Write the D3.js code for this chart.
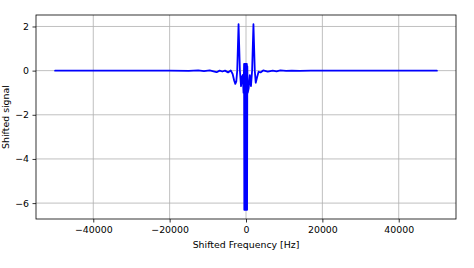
<!DOCTYPE html>
<html>
<head>
<meta charset="utf-8">
<script src="https://cdn.jsdelivr.net/npm/d3@7"></script>
<style>
  body { margin: 0; background: #fff; }
  svg { display: block; font-family: "DejaVu Sans", sans-serif; }
</style>
</head>
<body>
<div id="chart"></div>
<script>
// shifted spectrum
const freqs = [
    -50000, -30000, -20000, -15000, -12500, -11000, -9500, -8500, -7700, -6900,
    -6200, -5500, -4700, -4000, -3500, -3100, -2800, -2550, -2300, -1950,
    -1600, -1300, -1000, -850, -650, -500,
    -440, -380, -320, -260, -200, -140, -80, -20, 40, 100, 160, 220, 280, 340,
    450, 700, 1000, 1300, 1600, 1950,
    2300, 2550, 2900, 3300, 3800, 4500, 5700, 7000, 8000, 9000,
    10500, 12000, 14000, 17000, 20000, 30000, 50000
];
const signal = [
    0, 0, 0.005, -0.01, 0.01, -0.02, 0.01, -0.03, -0.07, 0.0,
    -0.04, 0.0, -0.08, 0.01, -0.15, -0.45, -0.6, -0.5, 0, 2.1,
    0, -0.7, -0.25, -0.2, -1.0, 0.3,
    -6.3, 0.3, -6.3, 0.3, -6.3, 0.3, -6.3, 0.3, -6.3, 0.3, -6.3, 0.3, -6.3, 0.2,
    -1.0, -0.8, -0.2, -0.7, 0, 2.1,
    0, -0.55, -0.3, -0.05, -0.08, 0.01, -0.04, 0.0, -0.03, 0.01,
    -0.015, 0.005, -0.01, 0.005, 0, 0, 0
];
const xTicks = [-40000, -20000, 0, 20000, 40000];
const yTicks = [-6, -4, -2, 0, 2];

const width = 474, height = 268;
const margin = {top: 15, right: 18, bottom: 49, left: 36};

const svg = d3.select("#chart")
    .append("svg")
    .attr("width", width)
    .attr("height", height);

// matplotlib style autoscale: 5% padding on each side
function padded(values) {
    const [lo, hi] = d3.extent(values);
    const pad = (hi - lo) * 0.05;
    return [lo - pad, hi + pad];
}

const x = d3.scaleLinear()
    .domain(padded(freqs))
    .range([margin.left, width - margin.right]);

const y = d3.scaleLinear()
    .domain(padded(signal))
    .range([height - margin.bottom, margin.top]);

// grid
svg.append("g")
    .selectAll("line")
    .data(xTicks)
    .enter()
    .append("line")
    .attr("x1", d => x(d)).attr("x2", d => x(d))
    .attr("y1", margin.top).attr("y2", height - margin.bottom)
    .attr("stroke", "#b0b0b0")
    .attr("stroke-width", 0.8);

svg.append("g")
    .selectAll("line")
    .data(yTicks)
    .enter()
    .append("line")
    .attr("x1", margin.left).attr("x2", width - margin.right)
    .attr("y1", d => y(d)).attr("y2", d => y(d))
    .attr("stroke", "#b0b0b0")
    .attr("stroke-width", 0.8);

// signal line
const line = d3.line()
    .x((d, i) => x(freqs[i]))
    .y(d => y(d));

svg.append("path")
    .datum(signal)
    .attr("fill", "none")
    .attr("stroke", "#0000ff")
    .attr("stroke-width", 1.8)
    .attr("stroke-linejoin", "round")
    .attr("stroke-linecap", "round")
    .attr("d", line);

// axes
const fmt = d => d < 0 ? "\u2212" + Math.abs(d) : String(d);

const xAxis = d3.axisBottom(x).tickValues(xTicks).tickFormat(fmt)
    .tickSize(3.5).tickPadding(3.5);
const yAxis = d3.axisLeft(y).tickValues(yTicks).tickFormat(fmt)
    .tickSize(3.5).tickPadding(3.5);

svg.append("g")
    .attr("transform", `translate(0,${height - margin.bottom})`)
    .call(xAxis)
    .call(g => g.select(".domain").remove());

svg.append("g")
    .attr("transform", `translate(${margin.left},0)`)
    .call(yAxis)
    .call(g => g.select(".domain").remove());

svg.selectAll(".tick text")
    .attr("fill", "#000")
    .style("font-size", "9.4px")
    .style("font-family", "DejaVu Sans");
svg.selectAll(".tick line")
    .attr("stroke", "#000")
    .attr("stroke-width", 0.8);

// frame
svg.append("rect")
    .attr("x", margin.left)
    .attr("y", margin.top)
    .attr("width", width - margin.left - margin.right)
    .attr("height", height - margin.top - margin.bottom)
    .attr("fill", "none")
    .attr("stroke", "#000")
    .attr("stroke-width", 0.8);

// labels
svg.append("text")
    .attr("x", (margin.left + width - margin.right) / 2)
    .attr("y", 248)
    .attr("text-anchor", "middle")
    .style("font-size", "9.4px")
    .text("Shifted Frequency [Hz]");

svg.append("text")
    .attr("transform", `translate(8.5,${(margin.top + height - margin.bottom) / 2}) rotate(-90)`)
    .attr("text-anchor", "middle")
    .style("font-size", "9.4px")
    .text("Shifted signal");
</script>
</body>
</html>
